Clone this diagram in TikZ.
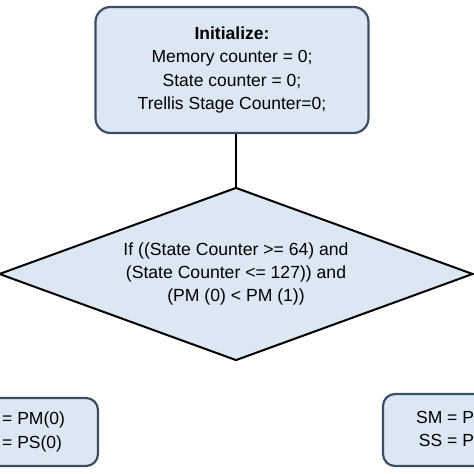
\documentclass[tikz,border=0pt]{standalone}
\usepackage{fontspec}
\setmainfont{Liberation Sans}
\usetikzlibrary{shapes.geometric}
\definecolor{boxfill}{RGB}{220,231,244}
\definecolor{boxline}{RGB}{58,78,102}
\begin{document}
\begin{tikzpicture}[x=1pt,y=-1pt,
  procbox/.style={draw=boxline, fill=boxfill, line width=2.2pt, rounded corners=15pt, align=center, inner sep=0pt, font=\fontsize{17.5pt}{23.3pt}\selectfont},
  decision/.style={diamond, draw=black, fill=boxfill, line width=2pt, aspect=2.74, align=center, inner sep=0pt, font=\fontsize{17.6pt}{23pt}\selectfont},
  link/.style={draw=black, line width=2pt}]
\useasboundingbox (0,0) rectangle (474,474);
\clip (0,0) rectangle (474,474);
\node[procbox, minimum width=273pt, minimum height=126pt] (init) at (232,70)
  {\textbf{Initialize:}\\Memory counter = 0;\\State counter = 0;\\Trellis Stage Counter=0;};
\node[decision, minimum width=474pt, minimum height=173pt] (dec) at (236,274)
  {If ((State Counter >= 64) and\\(State Counter <= 127)) and\\(PM (0) < PM (1))};
\draw[link] (dec.north) -- (dec.north |- init.south);
\node[procbox, rounded corners=12pt, minimum width=160pt, minimum height=68pt, font=\fontsize{17.5pt}{24pt}\selectfont] (left) at (18,432)
  {SM = PM(0)\\SS = PS(0)};
\node[procbox, rounded corners=12pt, minimum width=160pt, minimum height=72pt, font=\fontsize{17.5pt}{23pt}\selectfont] (right) at (463,430)
  {SM = PM(1)\\SS = PS(1)};
\end{tikzpicture}
\end{document}
